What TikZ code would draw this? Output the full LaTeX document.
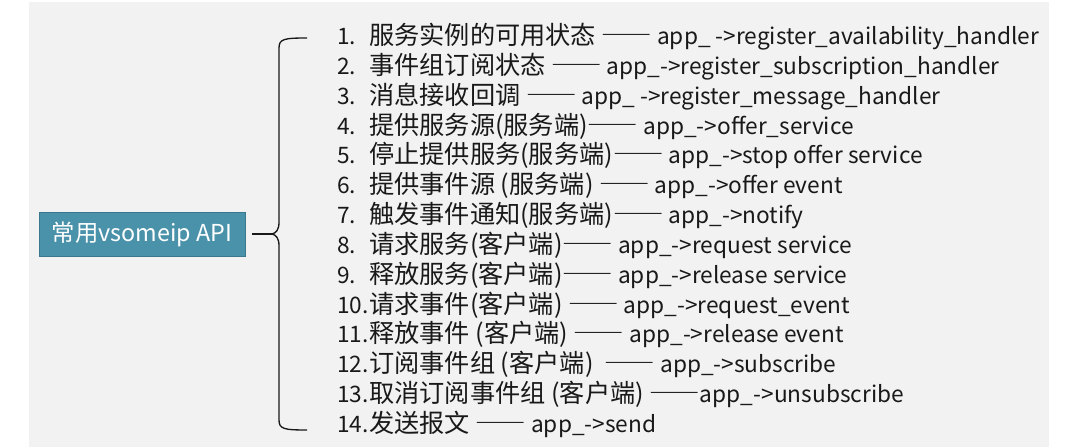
\documentclass[tikz,border=0pt]{standalone}
\usepackage{fontspec}
\setmainfont{Noto Sans CJK SC}[Language=Chinese Simplified]
\newfontfamily\latinfont{Noto Sans CJK SC}[Scale=0.9]
\usepackage{tikz}
\definecolor{panelgray}{RGB}{242,242,242}
\definecolor{apiblue}{RGB}{74,146,170}
\definecolor{apiedge}{RGB}{58,120,144}
\definecolor{inkgray}{RGB}{25,25,25}

\begin{document}
\begin{tikzpicture}[x=0.75pt,y=-0.75pt,
    api/.style={draw=apiedge, fill=apiblue, text=white, minimum width=154.5pt,
      minimum height=33pt, inner sep=0pt, font=\fontsize{17.5pt}{19pt}\selectfont},
    item/.style={anchor=base west, inner sep=0pt, text=inkgray,
      font=\fontsize{18.9pt}{22pt}\selectfont},
    bracket/.style={line width=1pt, inkgray}]
  \useasboundingbox (0,0) rectangle (1080,448);
  \fill[panelgray] (29,2) rectangle (1049,447);

  \node[api] (api) at (142,234) {常用vsomeip API};

  % brace
  \coordinate (bt) at (307,38);
  \coordinate (bm) at (272,234);
  \coordinate (bb) at (307,430);
  \draw[bracket] (bt) .. controls (284,38) and (279,39) .. (279,48) -- (279,222)
    .. controls (279,230) and (276,233) .. (bm)
    .. controls (276,235) and (279,238) .. (279,246) -- (279,420)
    .. controls (279,429) and (284,430) .. (bb);
  \draw[bracket, shorten <=5pt] (api) -- (bm);

  \foreach \n/\zh/\en in {
      1/{服务实例的可用状态 ——}/{\ app\_ ->register\_availability\_handler},
      2/{事件组订阅状态 ——}/{\ app\_->register\_subscription\_handler},
      3/{消息接收回调 ——}/{\ app\_ ->register\_message\_handler},
      4/{提供服务源(服务端)——}/{\ app\_->offer\_service},
      5/{停止提供服务(服务端)——}/{\ app\_->stop offer service},
      6/{提供事件源 (服务端) ——}/{\ app\_->offer event},
      7/{触发事件通知(服务端)——}/{\ app\_->notify},
      8/{请求服务(客户端)——}/{\ app\_->request service},
      9/{释放服务(客户端)——}/{\ app\_->release service},
      10/{请求事件(客户端) ——}/{\ app\_->request\_event},
      11/{释放事件 (客户端) ——}/{\ app\_->release event},
      12/{订阅事件组 (客户端)\ \ ——}/{\ app\_->subscribe},
      13/{取消订阅事件组 (客户端) ——}/{app\_->unsubscribe},
      14/{发送报文 ——}/{\ app\_->send}}
    \node[item] (l\n) at (337,44.5+29.85*\n-29.85)
      {\makebox[24pt][l]{\latinfont\n.}\zh{\latinfont\en}};
\end{tikzpicture}
\end{document}
